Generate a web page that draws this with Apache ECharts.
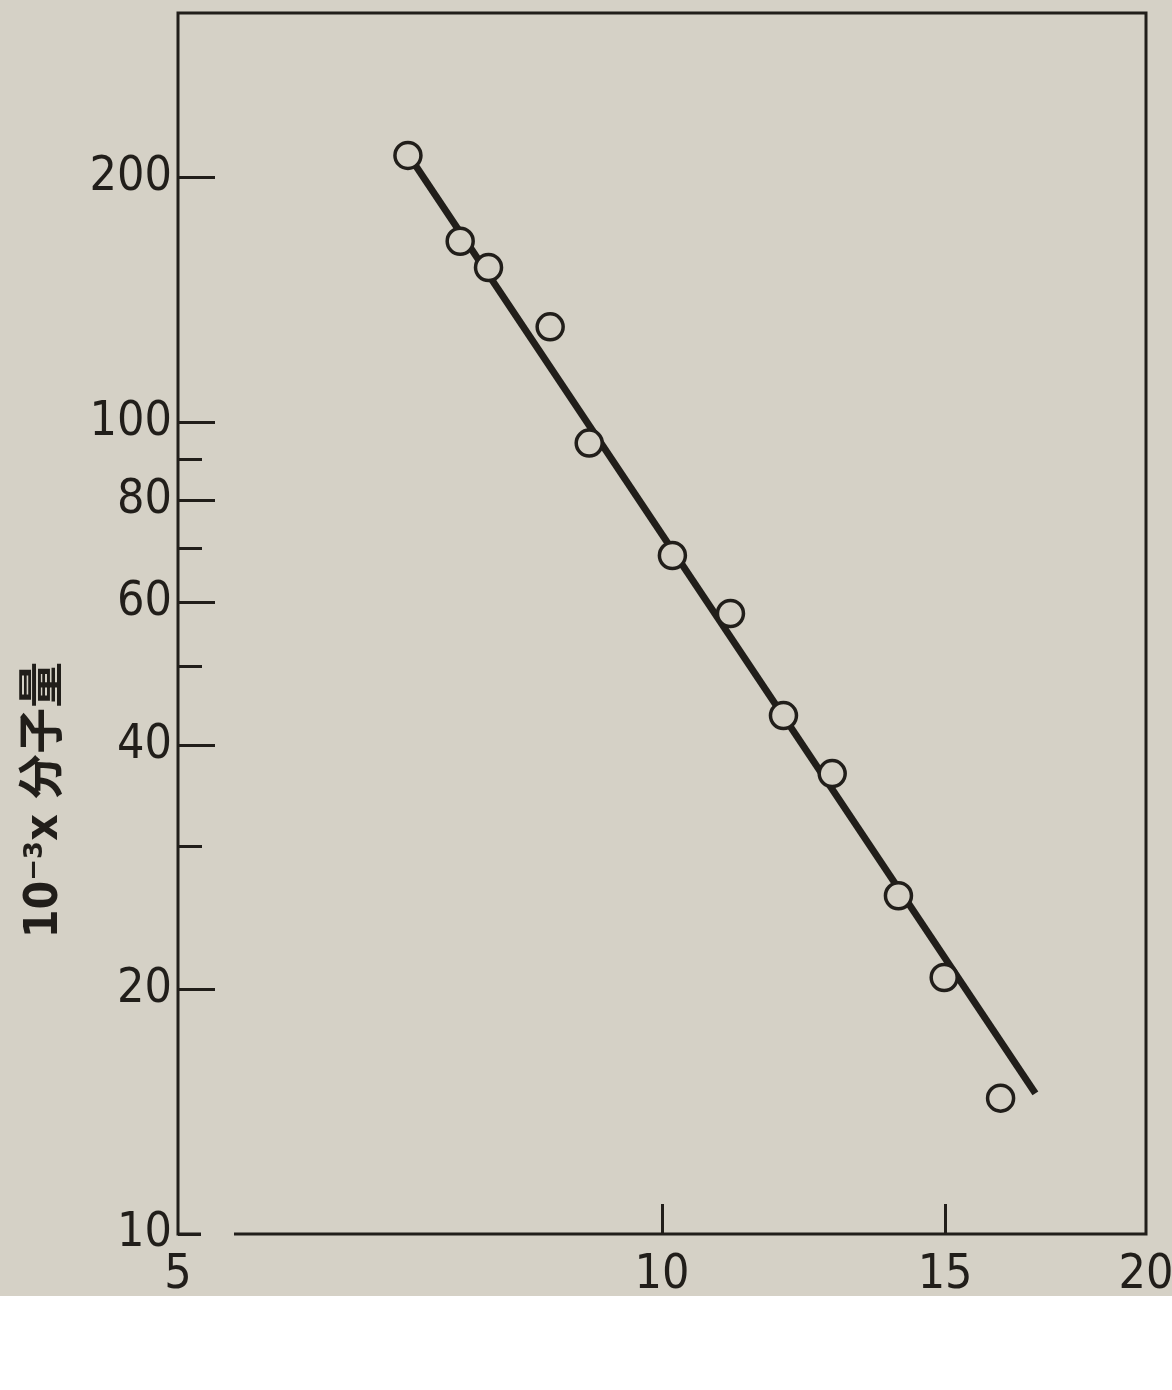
<!DOCTYPE html>
<html>
<head>
<meta charset="utf-8">
<script src="https://cdn.jsdelivr.net/npm/echarts@6/dist/echarts.min.js"></script>
<style>
  html, body { margin: 0; padding: 0; background: #d5d1c6; overflow: hidden; }
  #chart { width: 1172px; height: 1390px; }
</style>
</head>
<body>
<div id="chart"></div>
<script>
// Data (log-log plot)
const elutionVol = [6.95, 7.49, 7.80, 8.52, 9.01, 10.15, 11.03, 11.90, 12.76, 14.03, 14.98, 16.24];
const molWeight = [213, 167, 155, 131, 94.2, 68.5, 58.1, 43.5, 36.9, 26.1, 20.7, 14.7];
const fitLineX = [6.97, 17.07];
const fitLineY = [212, 14.9];
const xTickLabels = [5, 10, 15, 20];
const xTickMarks = [10, 15];
const yMajorTicks = [10, 20, 40, 60, 80, 100, 200];
const yMinorTicks = [30, 50, 70, 90];
const yAxisTitle = '10⁻³x 分子量';

const ink = '#211e1a';
const paper = '#d5d1c6';
const numFont = '"Liberation Sans Narrow", "DejaVu Sans Condensed", "Liberation Sans", sans-serif';

const chart = echarts.init(document.getElementById('chart'));

const points = elutionVol.map((x, i) => [x, molWeight[i]]);
const fit = fitLineX.map((x, i) => [x, fitLineY[i]]);

chart.setOption({
  backgroundColor: paper,
  animation: false,
  grid: {
    left: 178, top: 13, width: 968, height: 1221,
    outerBoundsMode: 'none', containLabel: false,
    show: true, borderColor: ink, borderWidth: 3, backgroundColor: 'transparent'
  },
  xAxis: {
    type: 'log', logBase: 10, min: 5, max: 20,
    axisLine: { show: false },
    splitLine: { show: false },
    axisTick: { show: true, inside: true, length: 30, customValues: xTickMarks,
      lineStyle: { color: ink, width: 3 } },
    axisLabel: { customValues: xTickLabels, margin: 18, color: ink,
      fontSize: 48, fontFamily: numFont }
  },
  yAxis: [
    {
      type: 'log', logBase: 10, min: 10, max: 319,
      axisLine: { show: false },
      splitLine: { show: false },
      axisTick: { show: true, inside: true, length: 37, customValues: yMajorTicks,
        lineStyle: { color: ink, width: 3 } },
      axisLabel: { customValues: yMajorTicks, margin: 6, color: ink,
        fontSize: 48, fontFamily: numFont }
    },
    {
      type: 'log', logBase: 10, min: 10, max: 319, position: 'left',
      axisLine: { show: false },
      splitLine: { show: false },
      axisTick: { show: true, inside: true, length: 24, customValues: yMinorTicks,
        lineStyle: { color: ink, width: 3 } },
      axisLabel: { show: false }
    }
  ],
  graphic: [
    { type: 'rect', z: 100, shape: { x: 201, y: 1229, width: 33, height: 10 },
      style: { fill: paper } },
    { type: 'text', z: 100, x: 45, y: 800, rotation: Math.PI / 2,
      style: { text: yAxisTitle, fill: ink, fontSize: 46, fontWeight: 'bold', align: 'center', verticalAlign: 'middle',
        fontFamily: '"DejaVu Sans Condensed", "Noto Sans CJK SC", sans-serif' } },
    { type: 'rect', z: 100, shape: { x: 0, y: 1296, width: 1172, height: 94 },
      style: { fill: '#ffffff' } }
  ],
  series: [
    {
      type: 'line', data: fit, symbol: 'none', z: 2,
      lineStyle: { color: ink, width: 7 }
    },
    {
      type: 'scatter', data: points, symbol: 'circle', symbolSize: 26, z: 3,
      itemStyle: { color: paper, borderColor: ink, borderWidth: 3.5, opacity: 1 }
    }
  ]
});
</script>
</body>
</html>
